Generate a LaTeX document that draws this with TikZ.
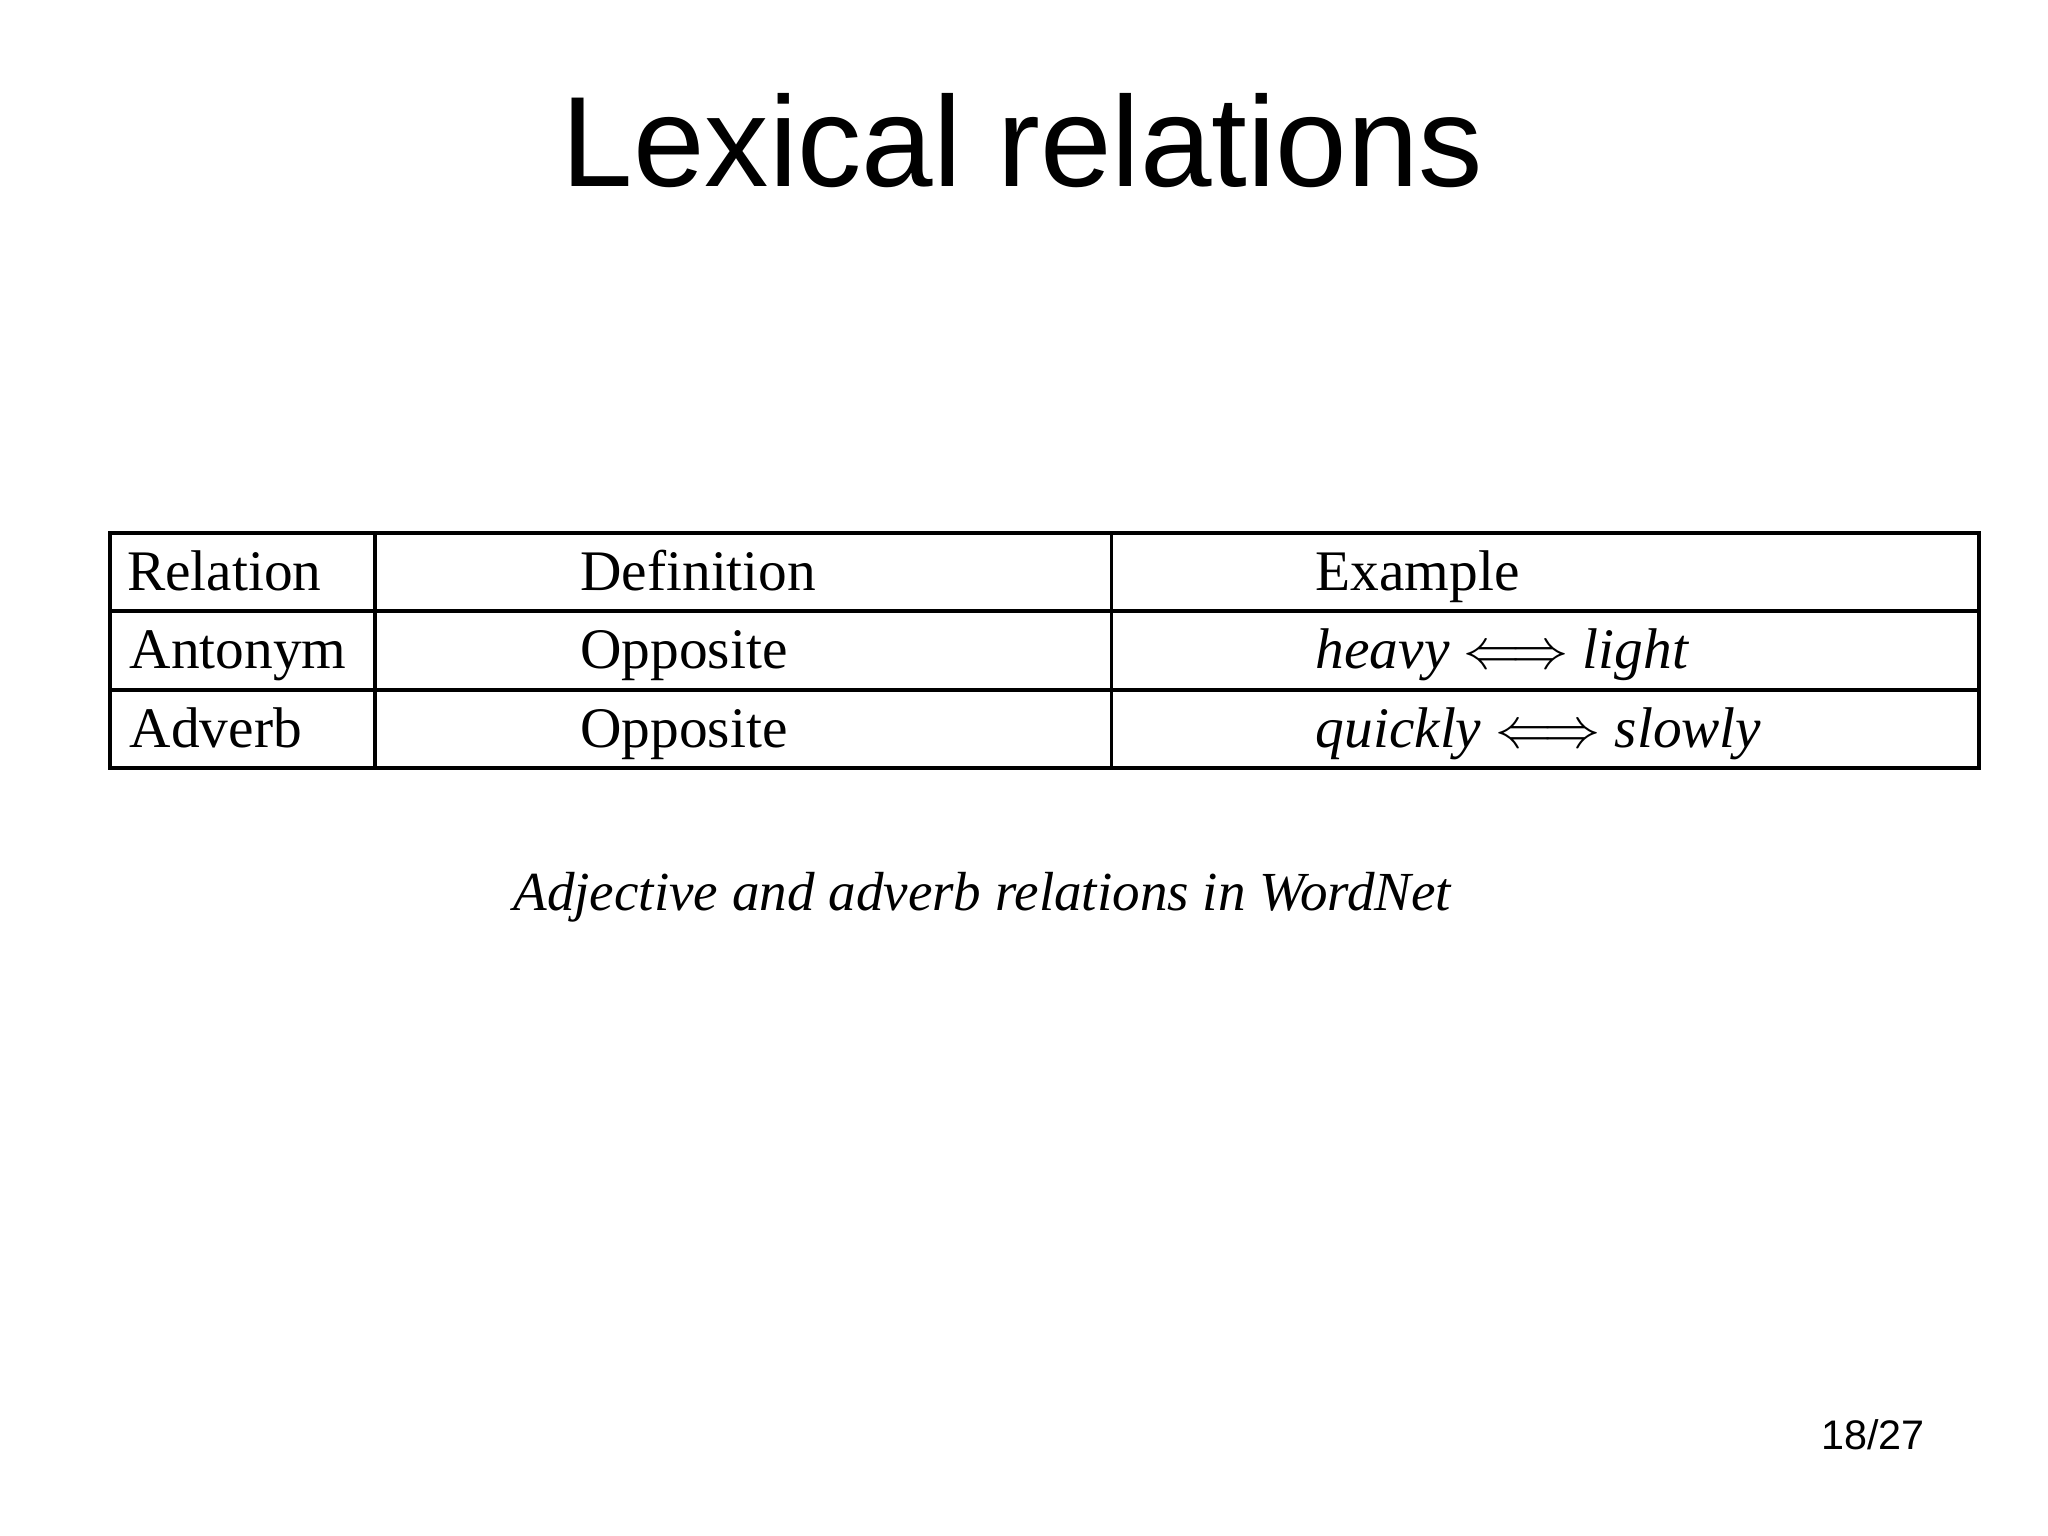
\documentclass[tikz,border=0pt]{standalone}
\usepackage{fontspec}
\setmainfont{Liberation Serif}
\newfontfamily\titlefont{Liberation Sans}
\begin{document}
\begin{tikzpicture}[x=0.02cm,y=-0.02cm,
  cell/.style={anchor=base west,inner sep=0pt,font=\fontsize{25}{30}\selectfont},
  rule/.style={line width=1.7pt}]
\useasboundingbox[fill=white] (0,0) rectangle (1568,1176);
\node[anchor=base,inner sep=0pt,font=\titlefont\fontsize{56}{64}\selectfont] (title) at (783,143) {Lexical relations};
% table
\draw[rule] (84,408) rectangle (1515,588);
\draw[rule] (84,468) -- (1515,468);
\draw[rule] (84,528) -- (1515,528);
\draw[rule] (287,408) -- (287,588);
\draw[rule] (851,408) -- (851,588);
\node[cell] (r1) at (97,452) {Relation};
\node[cell] (d1) at (444,452) {Definition};
\node[cell] (e1) at (1007,452) {Example};
\node[cell] (r2) at (99,512) {Antonym};
\node[cell] (d2) at (444,512) {Opposite};
\node[cell] (e2) at (1007,512) {\itshape heavy $\Longleftrightarrow$ light};
\node[cell] (r3) at (99,572) {Adverb};
\node[cell] (d3) at (444,572) {Opposite};
\node[cell] (e3) at (1007,572) {\itshape quickly $\Longleftrightarrow$ slowly};
\node[anchor=base,inner sep=0pt,font=\itshape\fontsize{24}{28}\selectfont] (cap) at (752,697) {Adjective and adverb relations in WordNet};
\node[anchor=base east,inner sep=0pt,font=\titlefont\fontsize{18}{22}\selectfont] (pg) at (1474,1110) {18/27};
\end{tikzpicture}
\end{document}
